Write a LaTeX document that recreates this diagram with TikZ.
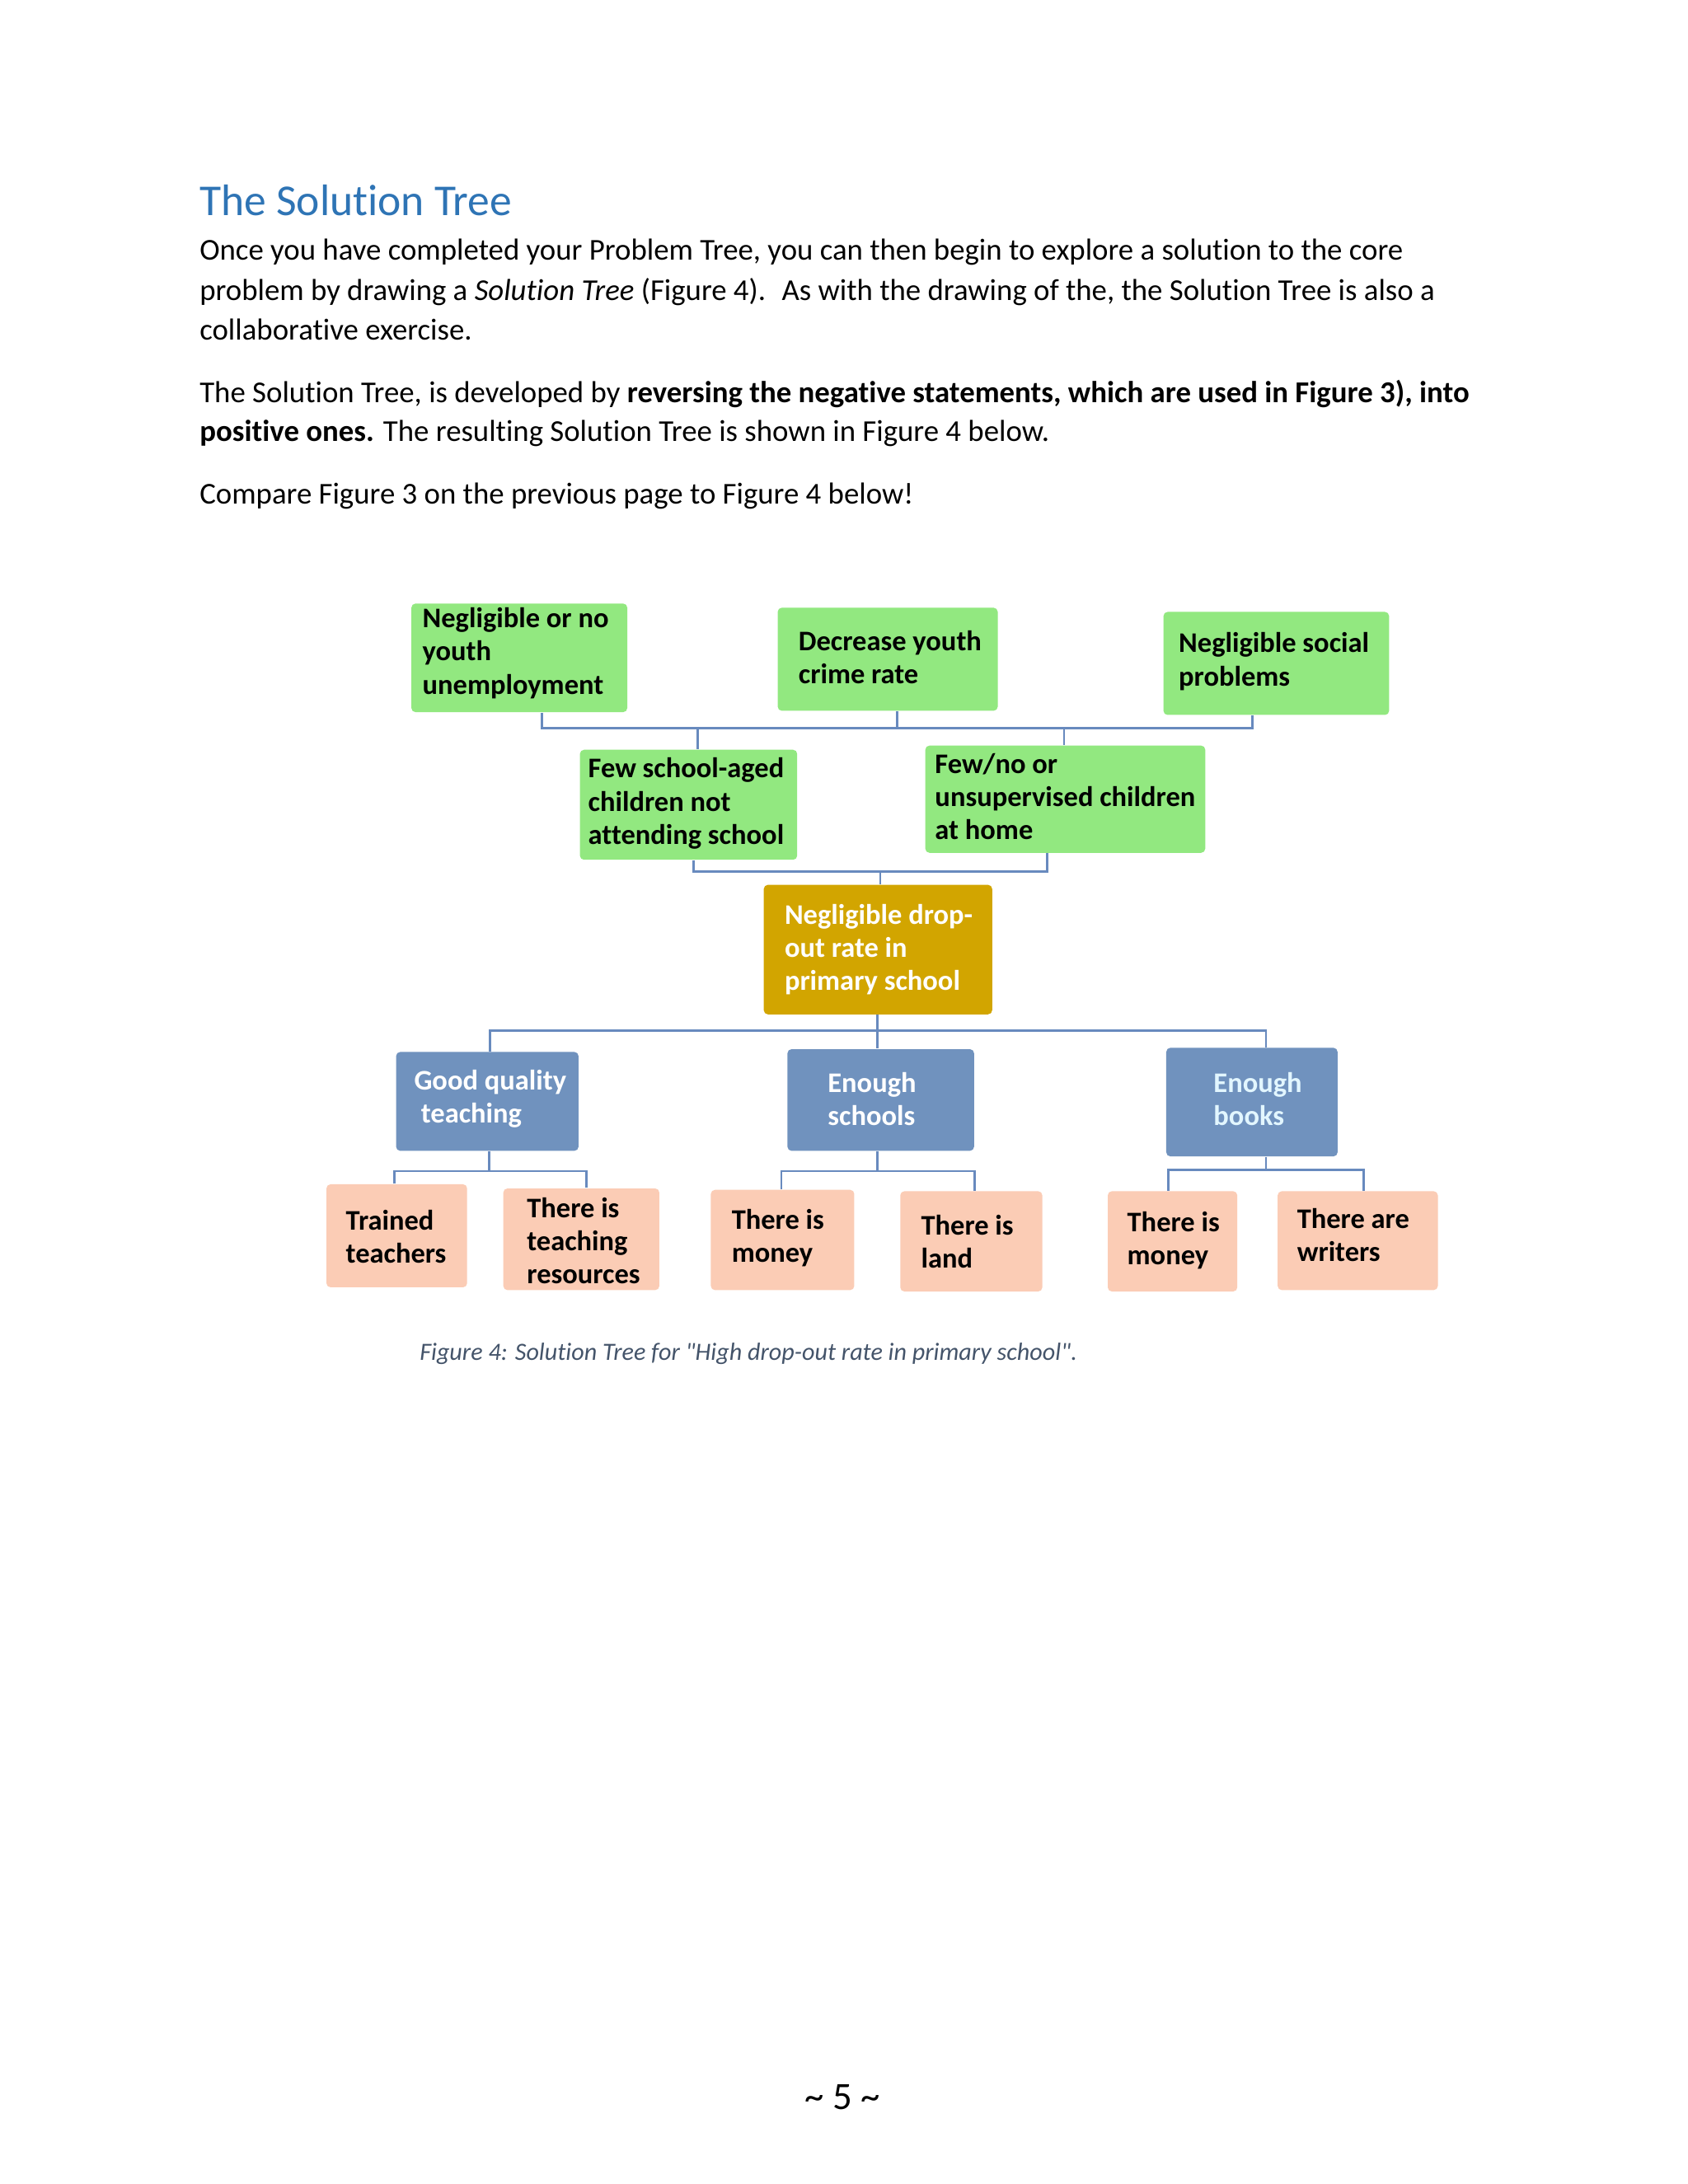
\documentclass[tikz,border=0pt]{standalone}
\usepackage{fontspec}
\setmainfont{Carlito}[Ligatures={TeX,NoCommon}]
\newfontfamily\capfont{Carlito}[Ligatures={ResetAll,NoCommon}]
\definecolor{cgreen}{RGB}{146,232,128}
\definecolor{cgold}{RGB}{210,165,0}
\definecolor{cblue}{RGB}{112,146,190}
\definecolor{cpeach}{RGB}{251,204,181}
\definecolor{cline}{RGB}{104,138,190}
\definecolor{ctitle}{RGB}{46,116,181}
\definecolor{ccap}{RGB}{68,84,106}
\definecolor{cglow}{RGB}{226,246,255}
\newcommand\mkbox[6]{%
  \node[#2, anchor=north west, minimum width={(#5-#3)*0.50495pt}, minimum height={(#6-#4)*0.50495pt}] (#1) at (#3,#4) {};}
\begin{document}
\begin{tikzpicture}[x=0.50495pt,y=-0.50495pt,
  box/.style={rectangle, rounded corners=1.5pt, inner sep=0pt, draw=none},
  gbox/.style={box, fill=cgreen},
  obox/.style={box, fill=cgold},
  bbox/.style={box, fill=cblue},
  pbox/.style={box, fill=cpeach},
  txt/.style={inner sep=0pt, align=left, anchor=west, font=\fontsize{10.3}{12}\selectfont\bfseries},
  wtxt/.style={txt, text=white},
  conn/.style={draw=cline, line width=0.85pt},
  body/.style={inner sep=0pt, anchor=base west, font=\fontsize{11}{14}\selectfont}]
\useasboundingbox[fill=white] (0,0) rectangle (1212,1568.3);

% heading and body text
\node[inner sep=0pt, anchor=base west, text=ctitle, font=\fontsize{16}{19}\selectfont] (title) at (143,155) {The Solution Tree};
\node[body] (l1) at (143,187) {Once you have completed your Problem Tree, you can then begin to explore a solution to the core};
\node[body] (l2) at (143,216) {problem by drawing a \textit{Solution Tree} (Figure 4).~ As with the drawing of the, the Solution Tree is also a};
\node[body] (l3) at (143,244) {collaborative exercise.};
\node[body] (l4) at (143,289) {The Solution Tree, is developed by \textbf{reversing the negative statements, which are used in Figure 3), into}};
\node[body] (l5) at (143,317) {\textbf{positive ones.} The resulting Solution Tree is shown in Figure 4 below.};
\node[body] (l6) at (143,362) {Compare Figure 3 on the previous page to Figure 4 below!};

% boxes
\mkbox{b1}{gbox}{295}{433}{450}{511}
\mkbox{b2}{gbox}{558}{436}{716}{510}
\mkbox{b3}{gbox}{835}{439}{997}{513}
\mkbox{b4}{gbox}{416}{538}{572}{617}
\mkbox{b5}{gbox}{664}{535}{865}{612}
\mkbox{core}{obox}{548}{635}{712}{728}
\mkbox{u1}{bbox}{284}{755}{415}{826}
\mkbox{u2}{bbox}{565}{753}{699}{826}
\mkbox{u3}{bbox}{837}{752}{960}{830}
\mkbox{p1}{pbox}{234}{850}{335}{924}
\mkbox{p2}{pbox}{361}{853}{473}{926}
\mkbox{p3}{pbox}{510}{854}{613}{926}
\mkbox{p4}{pbox}{646}{855}{748}{927}
\mkbox{p5}{pbox}{795}{855}{888}{927}
\mkbox{p6}{pbox}{917}{855}{1032}{926}

% box texts
\node[txt] (t1) at (303,469) {Negligible or no\\youth\\unemployment};
\node[txt] (t2) at (573,472) {Decrease youth\\crime rate};
\node[txt] (t3) at (846,475) {Negligible social\\problems};
\node[txt] (t4) at (422,577) {Few school-aged\\children not\\attending school};
\node[txt] (t5) at (671,572) {Few/no or\\unsupervised children\\at home};
\node[wtxt] (tc) at (563,682) {Negligible drop-\\out rate in\\primary school};
\node[wtxt] (tu1) at (297,789) {Good quality\\\hspace{2.5pt}teaching};
\node[wtxt] (tu2) at (594,789) {Enough\\schools};
\node[txt, text=cglow] (tu3) at (871,789) {Enough\\books};
\node[txt] (tp1) at (248,888) {Trained\\teachers};
\node[txt] (tp2) at (378,891) {There is\\teaching\\resources};
\node[txt] (tp3) at (525,889) {There is\\money};
\node[txt] (tp4) at (661,891.5) {There is\\land};
\node[txt] (tp5) at (809,890.5) {There is\\money};
\node[txt] (tp6) at (931,887) {There are\\writers};

% connector junctions
\coordinate (j1) at (389,523);
\coordinate (j2) at (644,523);
\coordinate (j3) at (899,523);
\coordinate (j4) at (501,523);
\coordinate (j5) at (764,523);
\coordinate (k4) at (498,626);
\coordinate (k5) at (752,626);
\coordinate (kc) at (632,626);
\coordinate (m0) at (630,740);
\coordinate (m1) at (352,740);
\coordinate (m3) at (909,740);
\coordinate (n1) at (351,841);
\coordinate (n1a) at (283,841);
\coordinate (n1b) at (421,841);
\coordinate (n2) at (630,841);
\coordinate (n2a) at (561,841);
\coordinate (n2b) at (700,841);
\coordinate (n3) at (909,840);
\coordinate (n3a) at (839,840);
\coordinate (n3b) at (979,840);

% connectors
\draw[conn] (b1.south -| j1) -- (j1) -- (j3) -- (b3.south -| j3);
\draw[conn] (b2.south -| j2) -- (j2);
\draw[conn] (j4) -- (b4.north -| j4);
\draw[conn] (j5) -- (b5.north -| j5);
\draw[conn] (b4.south -| k4) -- (k4) -- (k5) -- (b5.south -| k5);
\draw[conn] (kc) -- (core.north -| kc);
\draw[conn] (core.south -| m0) -- (m0);
\draw[conn] (u1.north -| m1) -- (m1) -- (m3) -- (u3.north -| m3);
\draw[conn] (m0) -- (u2.north -| m0);
\draw[conn] (u1.south -| n1) -- (n1);
\draw[conn] (p1.north -| n1a) -- (n1a) -- (n1b) -- (p2.north -| n1b);
\draw[conn] (u2.south -| n2) -- (n2);
\draw[conn] (p3.north -| n2a) -- (n2a) -- (n2b) -- (p4.north -| n2b);
\draw[conn] (u3.south -| n3) -- (n3);
\draw[conn] (p5.north -| n3a) -- (n3a) -- (n3b) -- (p6.north -| n3b);

% caption and page number
\node[inner sep=0pt, anchor=base west, text=ccap, font=\capfont\fontsize{9}{11}\selectfont\itshape] (cap) at (301,977) {Figure 4: Solution Tree for "High drop-out rate in primary school".};
\node[inner sep=0pt, anchor=base, font=\fontsize{14}{17}\selectfont] (pg) at (605,1515) {\char`\~\ 5 \char`\~};
\end{tikzpicture}
\end{document}
